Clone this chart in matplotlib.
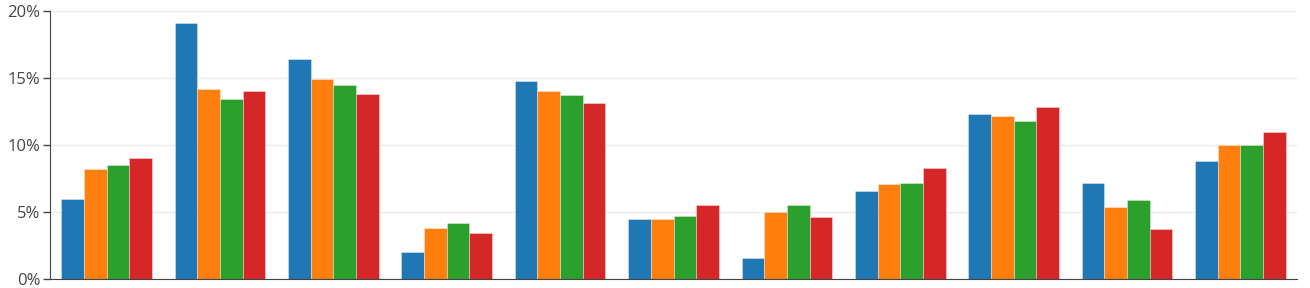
import matplotlib.pyplot as plt
import numpy as np

plt.rcParams['font.family'] = ['Open Sans', 'DejaVu Sans']

groups = list(range(11))
series_a = [6.0, 19.1, 16.4, 2.0, 14.8, 4.5, 1.6, 6.6, 12.3, 7.2, 8.8]
series_b = [8.2, 14.2, 14.9, 3.8, 14.0, 4.5, 5.0, 7.1, 12.2, 5.4, 10.0]
series_c = [8.5, 13.4, 14.5, 4.2, 13.7, 4.7, 5.5, 7.2, 11.8, 5.9, 10.0]
series_d = [9.0, 14.0, 13.8, 3.4, 13.1, 5.5, 4.6, 8.3, 12.8, 3.7, 11.0]
colors = ['#1f77b4', '#ff7f0e', '#2ca02c', '#d62728']
y_ticks = [0, 5, 10, 15, 20]

fig = plt.figure(figsize=(13.1, 2.88), dpi=100)
ax = fig.add_axes([50 / 1310, 1 - 279 / 288, 1247 / 1310, 268 / 288])

x = np.arange(len(groups))
w = 0.2
for i, (vals, c) in enumerate(zip([series_a, series_b, series_c, series_d], colors)):
    ax.bar(x + (i - 1.5) * w, vals, width=w, color=c,
           edgecolor=(1, 1, 1, 0.5), linewidth=0.5)

ax.set_xlim(-0.5, len(groups) - 0.5)
ax.set_ylim(0, 20)
ax.set_yticks(y_ticks)
ax.set_yticklabels([f'{t}%' for t in y_ticks])
ax.set_xticks([])
ax.grid(axis='y', color='#ebebeb', linewidth=1)
ax.set_axisbelow(True)
for s in ['top', 'right']:
    ax.spines[s].set_visible(False)
ax.spines['left'].set_color('#444444')
ax.spines['bottom'].set_color('#444444')
ax.tick_params(axis='y', colors='#444444', labelsize=12, length=5, width=1, pad=2)

fig.savefig('out.png', dpi=100)
